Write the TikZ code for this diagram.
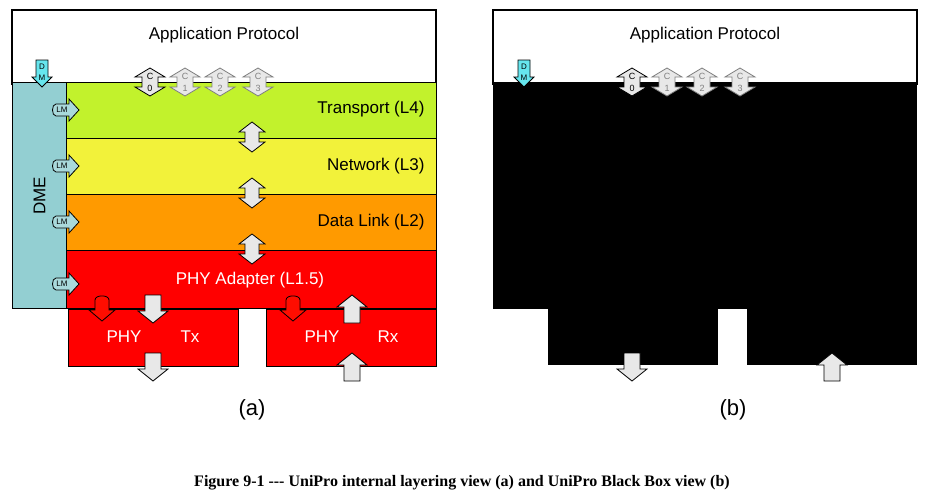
\documentclass[tikz,border=0pt]{standalone}
\usepackage{fontspec}
\setmainfont{Liberation Sans}
\newfontfamily\capfont{Liberation Serif}
\definecolor{dmeteal}{HTML}{93CFD2}
\definecolor{tlgreen}{HTML}{C2F22C}
\definecolor{nwyellow}{HTML}{F2F23A}
\definecolor{dlorange}{HTML}{FF9A00}
\definecolor{phyred}{HTML}{FF0000}
\definecolor{dmcyan}{HTML}{66E6EE}
\definecolor{arrgray}{HTML}{E8E8E8}
\tikzset{
  layer/.style={draw, line width=1.2pt, minimum width=370pt, minimum height=56pt, inner sep=0pt},
  lbl/.style={font=\fontsize{17}{19}\selectfont},
  pics/dblarrow/.style={code={
    \draw[fill=arrgray, line width=0.8pt] (-7,-5)--(-13,-5)--(0,-15)--(13,-5)--(7,-5)--(7,5)--(13,5)--(0,15)--(-13,5)--(-7,5)--cycle;}},
  pics/cport/.style={code={
    \draw[fill=arrgray, draw=#1, line width=0.8pt] (-8,-5)--(-15,-5)--(0,-14)--(15,-5)--(8,-5)--(8,5)--(15,5)--(0,14)--(-15,5)--(-8,5)--cycle;}},
  pics/blkdown/.style={code={
    \draw[fill=#1, line width=0.8pt] (-8,-14)--(8,-14)--(8,2)--(15,2)--(0,14)--(-15,2)--(-8,2)--cycle;}},
  pics/blkup/.style={code={
    \draw[fill=#1, line width=0.8pt] (-8,14)--(8,14)--(8,-2)--(15,-2)--(0,-14)--(-15,-2)--(-8,-2)--cycle;}},
  pics/reddown/.style={code={
    \draw[fill=phyred!90!orange, line width=0.8pt] (-7,2)--(-7,-8) to[out=90,in=90] (7,-8)--(7,2)--(13,2)--(0,13)--(-13,2)--cycle;}},
  pics/lmarrow/.style={code={
    \draw[fill=dmeteal!80!white, line width=0.8pt] (18,-6)--(5,-6) to[out=180,in=180] (5,6)--(18,6)--(18,11)--(28,0)--(18,-11)--cycle;
    \node[font=\fontsize{8}{8}\selectfont] at (11,0) {LM};}},
  pics/dmarrow/.style={code={
    \draw[fill=dmcyan, line width=0.8pt] (-6,-14)--(6,-14)--(6,3)--(10,3)--(0,13)--(-10,3)--(-6,3)--cycle;
    \node[font=\fontsize{8}{8}\selectfont] at (0,-7) {D};
    \node[font=\fontsize{8}{8}\selectfont] at (0,4) {M};}},
}
\begin{document}
\begin{tikzpicture}[x=1pt,y=-1pt]
\useasboundingbox (0,0) rectangle (928,501);
% (a) layered view
\draw[line width=1.2pt] (12,85) -- (12,10) -- (436,10) -- (436,85);
\node[lbl] (appa) at (224,35) {Application Protocol};
\node[layer, fill=tlgreen, anchor=north west] (tl) at (66,82) {};
\node[layer, fill=nwyellow, anchor=north west] (nw) at (66,138) {};
\node[layer, fill=dlorange, anchor=north west] (dl) at (66,194) {};
\node[layer, fill=phyred, anchor=north west, minimum height=58pt] (pa) at (66,250) {};
\node[draw, line width=1.2pt, fill=dmeteal, anchor=north west, minimum width=54pt, minimum height=226pt, inner sep=0pt] (dme) at (12,82) {};
\node[lbl, rotate=90] at (dme.center) {DME};
\node[lbl, anchor=east] at (428,109) {Transport (L4)};
\node[lbl, anchor=east] at (428,166) {Network (L3)};
\node[lbl, anchor=east] at (428,222) {Data Link (L2)};
\node[lbl, text=white] at (250,280) {PHY Adapter (L1.5)};
\node[draw, line width=1.2pt, fill=phyred, anchor=north west, minimum width=170pt, minimum height=57pt, inner sep=0pt] (tx) at (68,309) {};
\node[draw, line width=1.2pt, fill=phyred, anchor=north west, minimum width=170pt, minimum height=57pt, inner sep=0pt] (rx) at (266,309) {};
\node[lbl, text=white] at (124,337) {PHY};
\node[lbl, text=white] at (190,337) {Tx};
\node[lbl, text=white] at (322,337) {PHY};
\node[lbl, text=white] at (388,337) {Rx};
\foreach \y in {137,193,249} \pic at (252,\y) {dblarrow};
\foreach \y in {110,166,222,284} \pic at (51,\y) {lmarrow};
\pic at (42,74) {dmarrow};
\pic at (150,82) {cport=black};
\foreach \x in {185,220,258} \pic at (\x,82) {cport=gray};
\node[font=\fontsize{9}{9}\selectfont] at (150,76) {C};
\node[font=\fontsize{9}{9}\selectfont] at (150,88) {0};
\foreach \x/\n in {185/1,220/2,258/3} {
  \node[font=\fontsize{9}{9}\selectfont, text=gray] at (\x,76) {C};
  \node[font=\fontsize{9}{9}\selectfont, text=gray] at (\x,88) {\n};}
\pic at (102,308) {reddown};
\pic at (293,308) {reddown};
\pic at (153,309) {blkdown=arrgray};
\pic at (352,309) {blkup=arrgray};
\pic at (153,367) {blkdown=arrgray};
\pic at (352,367) {blkup=arrgray};
\node[font=\fontsize{22}{24}\selectfont] (capa) at (252,410) {(a)};
% (b) black box view
\draw[line width=1.2pt] (493,85) -- (493,10) -- (917,10) -- (917,85);
\node[lbl] (appb) at (705,35) {Application Protocol};
\fill (493,82) rectangle (917,309);
\node[fill=black, anchor=north west, minimum width=170pt, minimum height=57pt, inner sep=0pt] (txb) at (548,308) {};
\node[fill=black, anchor=north west, minimum width=170pt, minimum height=57pt, inner sep=0pt] (rxb) at (747,308) {};
\pic at (524,74) {dmarrow};
\pic at (632,82) {cport=black};
\foreach \x in {667,702,740} \pic at (\x,82) {cport=gray};
\node[font=\fontsize{9}{9}\selectfont] at (632,76) {C};
\node[font=\fontsize{9}{9}\selectfont] at (632,88) {0};
\foreach \x/\n in {667/1,702/2,740/3} {
  \node[font=\fontsize{9}{9}\selectfont, text=gray] at (\x,76) {C};
  \node[font=\fontsize{9}{9}\selectfont, text=gray] at (\x,88) {\n};}
\pic at (632,367) {blkdown=arrgray};
\pic at (832,367) {blkup=arrgray};
\node[font=\fontsize{22}{24}\selectfont] (capb) at (733,410) {(b)};
% caption
\node[font=\capfont\bfseries\fontsize{16}{18}\selectfont] (fig) at (462,483) {Figure 9-1 --- UniPro internal layering view (a) and UniPro Black Box view (b)};
\end{tikzpicture}
\end{document}
